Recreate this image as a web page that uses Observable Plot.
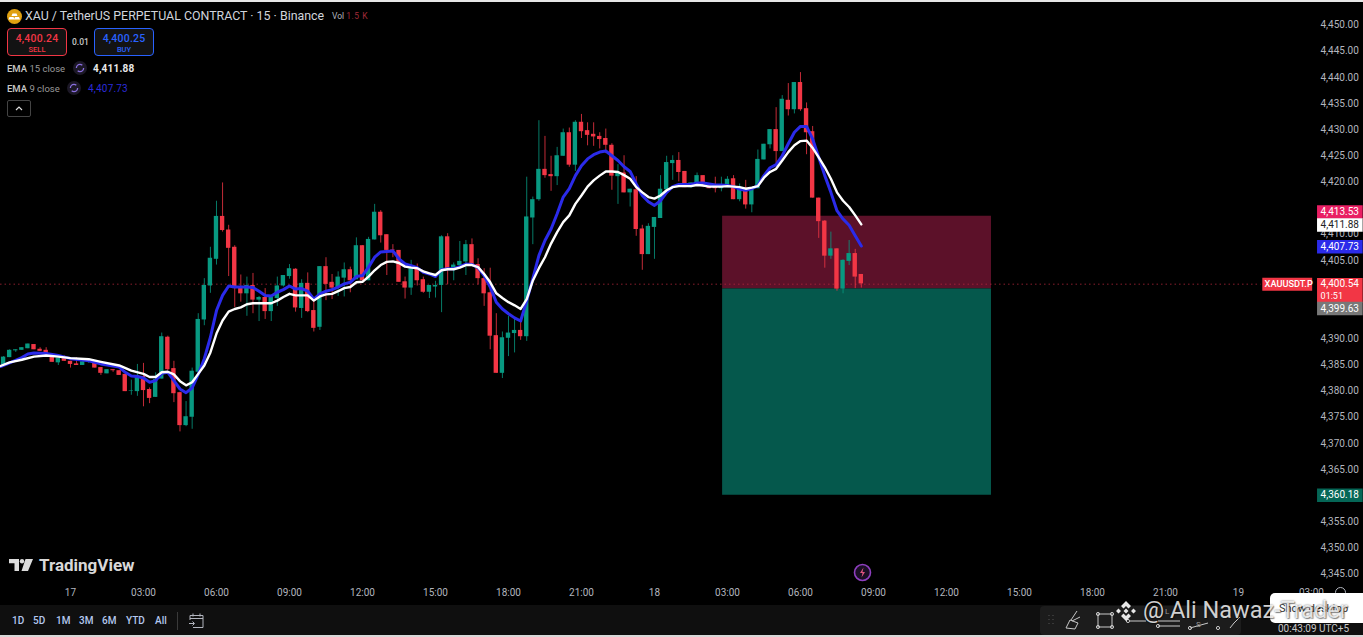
<!DOCTYPE html>
<html>
<head>
<meta charset="utf-8">
<script src="https://cdn.jsdelivr.net/npm/d3@7"></script>
<script src="https://cdn.jsdelivr.net/npm/@observablehq/plot@0.6"></script>
<style>
html,body{margin:0;padding:0;background:#000;overflow:hidden}
#wrap{position:relative;width:1363px;height:637px;font-family:Roboto,sans-serif;overflow:hidden}
#wrap svg{display:block}
.o{position:absolute;white-space:nowrap;line-height:1}
.box{position:absolute;top:28px;width:58px;height:26px;border-radius:4px;background:#131313;text-align:center;box-sizing:content-box}
.box b{display:block;font-size:10.5px;font-weight:500;margin-top:4px;line-height:12px;letter-spacing:.2px}
.box span{display:block;font-size:7.5px;font-weight:500;line-height:9px}
.rg{color:#b4c8ee;font-size:10px;top:616px;font-weight:500}
</style>
</head>
<body>
<div id="wrap"></div>
<script>
// Bars are 15-minute candles; index 0 is 00:00 on the 17th.
const firstBar = -11;
const opens = [4384.9,4386.4,4387.7,4387.8,4388.1,4388.9,4388.0,4387.8,4387.0,4385.4,4386.2,
4385.7,4385.2,4384.9,4385.5,4385.8,4384.5,4383.3,4384.1,4383.9,4383.2,
4380.0,4379.9,4382.8,4380.3,4378.8,4382.3,4390.3,4384.3,4379.7,4373.4,
4375.0,4383.6,4393.6,4400.1,4405.2,4413.4,4410.8,4407.5,4399.7,4398.6,
4400.2,4397.4,4397.9,4395.2,4397.7,4400.1,4401.9,4403.3,4395.8,4400.6,
4395.4,4392.2,4403.8,4400.8,4399.7,4401.6,4403.2,4401.3,4407.8,4401.1,
4408.9,4414.2,4409.9,4407.0,4406.9,4400.9,4399.7,4403.4,4401.3,4398.9,
4399.9,4400.2,4409.5,4403.2,4404.0,4404.7,4408.0,4404.2,4401.5,4398.8,
4390.6,4383.4,4390.1,4391.0,4391.6,4390.4,4413.1,4416.6,4422.4,4421.4,
4421.0,4424.9,4429.4,4423.2,4431.4,4429.8,4429.1,4428.7,4428.3,4427.0,
4421.0,4421.7,4417.9,4418.5,4411.0,4406.1,4411.3,4413.0,4418.5,4423.5,
4424.1,4422.0,4418.9,4419.6,4421.2,4419.2,4419.0,4418.7,4418.9,4420.6,
4416.6,4418.8,4415.6,4418.7,4424.2,4427.1,4430.0,4425.8,4435.6,4433.8,
4439.0,4434.0,4429.6,4416.9,4412.5,4405.8,4407.2,4399.5,4404.8,4406.3,4402.3];
const highs = [4386.6,4387.9,4387.9,4388.3,4389.0,4388.9,4388.3,4388.3,4387.1,4386.3,4386.7,
4385.7,4386.4,4385.6,4386.1,4385.8,4384.5,4384.1,4384.1,4383.9,4383.2,
4382.1,4385.1,4385.3,4380.6,4383.5,4391.1,4390.5,4385.7,4379.8,4378.0,
4384.4,4394.8,4401.5,4407.5,4416.3,4419.8,4411.7,4407.8,4402.2,4401.8,
4402.5,4398.1,4399.6,4397.9,4401.8,4402.1,4404.2,4403.4,4401.3,4402.6,
4397.3,4403.8,4405.5,4402.3,4402.8,4404.5,4403.7,4409.3,4407.8,4409.4,
4415.7,4414.5,4409.9,4408.0,4406.9,4401.8,4405.0,4404.3,4401.8,4400.2,
4401.0,4409.7,4410.1,4404.5,4408.6,4408.8,4409.1,4405.3,4403.4,4403.5,
4394.8,4391.3,4394.3,4393.8,4393.7,4420.9,4417.1,4431.7,4428.7,4424.9,
4426.6,4430.1,4430.3,4431.7,4432.9,4431.3,4431.3,4429.4,4430.1,4427.3,
4423.3,4425.0,4418.6,4421.0,4411.7,4412.0,4413.2,4421.2,4424.9,4425.0,
4425.6,4422.0,4419.8,4421.7,4421.2,4419.2,4420.9,4420.9,4421.0,4421.2,
4419.6,4420.3,4418.7,4426.1,4427.2,4430.0,4434.2,4436.5,4438.8,4439.0,
4440.9,4435.1,4430.6,4416.9,4412.6,4410.4,4407.2,4405.1,4408.8,4407.1,4402.3];
const lows = [4384.8,4386.4,4387.4,4387.8,4388.1,4387.9,4387.6,4387.0,4385.5,4384.9,4385.7,
4384.4,4384.9,4384.9,4385.3,4384.4,4383.0,4383.3,4383.6,4383.0,4379.9,
4379.2,4379.0,4377.0,4377.6,4378.8,4382.3,4383.9,4377.8,4372.2,4373.2,
4372.7,4383.6,4392.5,4398.7,4404.1,4410.4,4401.9,4396.0,4397.0,4394.3,
4394.8,4393.3,4393.7,4393.3,4396.2,4399.9,4401.4,4395.1,4393.9,4395.0,
4391.3,4391.6,4397.3,4397.5,4398.1,4398.0,4398.8,4401.3,4400.7,4401.1,
4408.9,4408.3,4402.1,4405.5,4400.8,4397.6,4398.3,4400.1,4398.7,4397.7,
4397.8,4395.0,4400.3,4401.1,4404.0,4402.1,4404.0,4400.3,4396.2,4387.9,
4383.4,4382.4,4386.6,4387.3,4389.7,4389.5,4408.0,4416.3,4420.7,4418.2,
4419.3,4424.9,4422.8,4422.0,4428.3,4426.9,4426.8,4426.3,4425.4,4418.4,
4415.7,4417.9,4415.2,4409.6,4403.1,4406.1,4405.2,4413.0,4418.5,4420.3,
4420.0,4418.9,4418.8,4419.6,4418.9,4418.7,4417.9,4418.1,4418.9,4416.6,
4416.2,4414.8,4414.1,4418.7,4424.2,4426.3,4423.5,4425.8,4432.6,4433.0,
4433.5,4425.2,4416.9,4409.2,4403.5,4405.2,4399.1,4398.6,4404.0,4399.6,4399.7];
const closes = [4386.5,4387.8,4387.9,4388.3,4389.0,4387.9,4387.6,4387.0,4385.5,4386.3,4385.7,
4385.1,4384.9,4385.6,4385.8,4384.4,4383.4,4384.1,4383.9,4383.0,4379.9,
4380.1,4382.9,4380.1,4378.6,4382.2,4390.4,4384.1,4379.5,4373.4,4375.1,
4383.8,4393.7,4400.2,4405.4,4413.4,4410.7,4407.3,4399.6,4398.6,4400.2,
4397.4,4397.9,4395.2,4397.9,4400.1,4402.1,4403.4,4395.9,4400.6,4395.2,
4392.0,4403.8,4400.4,4399.7,4401.8,4403.2,4401.1,4407.8,4401.1,4409.0,
4414.2,4409.7,4406.9,4406.9,4400.8,4399.7,4403.4,4401.1,4398.9,4400.2,
4400.2,4409.5,4403.3,4404.1,4404.8,4408.0,4404.1,4401.5,4398.6,4390.5,
4383.4,4390.2,4391.1,4391.6,4390.4,4413.3,4416.6,4422.4,4421.2,4421.0,
4425.0,4429.4,4423.2,4431.4,4429.6,4428.9,4428.6,4428.1,4427.0,4421.1,
4421.6,4417.9,4418.6,4410.9,4406.1,4411.5,4413.2,4418.6,4423.7,4424.1,
4421.8,4418.9,4419.8,4421.2,4419.1,4418.7,4418.7,4419.1,4420.5,4416.6,
4418.7,4415.6,4418.7,4424.3,4427.2,4430.0,4425.8,4435.8,4433.8,4439.0,
4433.8,4429.4,4416.9,4412.4,4405.8,4407.2,4399.5,4405.0,4406.3,4401.8,4400.5];

const ema15Bars = [-11.5,-10,-8,-6,-4,-2,0,3,5,8,10,12,...d3.range(13,131)];
const ema15 = [4384.8,4385.5,4386.0,4386.6,4386.8,4386.6,4386.3,4386.1,4385.6,4384.9,4383.9,4383.3,
4382.7,4382.7,4383.6,4383.7,4383.2,4381.9,4381.1,4381.7,4383.3,4384.9,4387.4,4391.0,4393.5,4395.2,4395.7,4396.0,4396.6,4396.8,4396.8,4396.8,
4396.8,4397.3,4398.0,4398.6,4398.3,4398.3,4398.3,4397.3,4398.1,4398.5,4398.6,4399.1,4399.7,4399.9,4400.8,4400.9,4401.9,4403.1,4404.1,4404.7,4404.8,4404.5,4403.8,4403.6,4403.5,4402.9,4402.5,4402.2,4403.1,4403.3,4403.3,4403.6,4404.1,4404.1,4403.7,4402.4,4400.8,4398.7,4397.8,4397.0,4396.4,4395.7,4397.6,
4401.1,4403.5,4405.6,4408.2,4410.4,4412.3,4413.6,4415.8,4417.4,4419.1,4420.3,4421.2,4422.0,4422.0,4421.9,4421.3,4420.6,4419.0,4418.0,4417.1,4416.8,4417.4,4418.4,4419.0,4419.2,4419.2,4419.2,4419.4,4419.3,4419.1,4419.1,4419.1,4419.2,4419.1,4419.0,4418.7,4418.9,4419.2,
4420.8,4421.9,4422.5,4424.1,4425.7,4427.0,4427.8,4427.9,4426.5,4424.7,4422.8,4420.6,4418.0,4416.4,4415.2,4413.6,4411.88];
const ema9Bars = [-11.5,-10,-8,-7,-6,-4,-2,0,3,5,8,...d3.range(9,131)];
const ema9 = [4384.7,4385.4,4386.4,4387.1,4387.3,4387.2,4386.8,4386.2,4385.8,4385.2,4384.6,
4383.6,4382.9,4382.8,4382.5,4381.7,4382.0,4383.4,4383.6,4382.0,4380.4,4379.7,4380.6,4383.2,4386.2,4390.3,4395.4,4398.3,4400.1,4399.9,4399.9,4399.9,4399.8,4399.1,4398.3,
4398.2,4398.9,4399.4,4400.1,4399.5,4399.6,4399.1,4397.6,4398.6,4399.1,4399.4,4399.9,4400.5,4400.8,4401.9,4402.1,4403.7,4405.6,4406.6,4406.7,4406.8,4405.3,4404.3,4404.0,4403.6,4402.7,4402.4,4401.9,4403.2,4403.4,4403.4,4403.8,4404.3,4404.2,4403.6,4402.1,4399.9,4397.0,4395.7,4394.8,4394.0,4393.4,4397.3,
4401.5,4405.9,4408.8,4411.0,4413.9,4417.1,4418.7,4421.2,4423.1,4424.4,4425.2,4425.7,4425.9,4425.0,4424.1,4422.9,4422.0,4419.6,4417.4,4416.2,4415.5,4416.4,4418.0,4419.1,4419.5,4419.5,4419.5,4419.8,4419.8,4419.6,4419.4,4419.4,4419.3,4419.1,4418.6,4418.4,4418.7,4419.3,
4421.2,4422.7,4423.3,4425.0,4427.3,4429.5,4430.6,4430.6,4428.2,4424.7,4421.2,4418.0,4414.5,4412.9,4411.7,4409.7,4407.73];

const timeTicks = [0,12,24,36,48,60,72,84,96,108,120,132,144,156,168,180,192,204];
const timeLabels = ["17","03:00","06:00","09:00","12:00","15:00","18:00","21:00","18","03:00","06:00","09:00","12:00","15:00","18:00","21:00","19","03:00"];
const priceTicks = [4345,4350,4355,4365,4370,4375,4380,4385,4390,4405,4410,4420,4425,4430,4435,4440,4445,4450];

const entryPrice = 4399.63, stopPrice = 4413.53, targetPrice = 4360.18, lastPrice = 4400.54;
const ema15Last = 4411.88, ema9Last = 4407.73;
const boxStart = 107.2, boxEnd = 151.4;

const UP = "#089981", DOWN = "#f23645";
const bars = opens.map((o,k)=>({i:firstBar+k,o,h:highs[k],l:lows[k],c:closes[k],col:closes[k]>=o?UP:DOWN}));
const zip = (xs,ys)=>xs.map((i,k)=>({i,v:ys[k]}));
const fmt = d3.format(",.2f");
const tagL = 205, tagR = 212.5;

function tag(price,bg,fg,dy){
  return [
    Plot.ruleY([price],{x1:()=>tagL,x2:()=>tagR,stroke:bg,strokeWidth:13.5,dy}),
    Plot.text([price],{x:()=>tagL+.5,y:d=>d,text:d=>fmt(d),textAnchor:"start",fill:fg,fontSize:10,fontWeight:400,dy,fontFamily:"Roboto"})
  ];
}

const chart = Plot.plot({
  width:1363,height:637,
  marginLeft:0,marginRight:72,marginTop:0,marginBottom:53,
  style:{background:"#000",fontFamily:"Roboto",overflow:"visible"},
  x:{domain:[-11.507,200.72]},
  y:{domain:[4343.02,4454.685]},
  marks:[
    Plot.rect([0],{x1:()=>boxStart,x2:()=>boxEnd,y1:()=>entryPrice,y2:()=>stopPrice,fill:"#5c1129",dy:.5}),
    Plot.rect([0],{x1:()=>boxStart,x2:()=>boxEnd,y1:()=>targetPrice,y2:()=>entryPrice,fill:"#05584c",dy:.5}),
    Plot.ruleY([lastPrice],{x1:()=>-11.5,x2:()=>195.7,stroke:"#b8283c",strokeOpacity:.75,strokeDasharray:"1.5,3",strokeWidth:1,dy:.5}),
    Plot.ruleX(bars,{x:"i",y1:"l",y2:"h",stroke:"col",strokeWidth:1,strokeOpacity:.8}),
    Plot.rect(bars,{x1:d=>d.i-.36,x2:d=>d.i+.36,y1:"o",y2:"c",fill:"col"}),
    Plot.line(zip(ema9Bars,ema9),{x:"i",y:"v",stroke:"#2b2bea",strokeWidth:3}),
    Plot.line(zip(ema15Bars,ema15),{x:"i",y:"v",stroke:"#fff",strokeWidth:2.4}),
    Plot.axisX({ticks:timeTicks,tickFormat:d=>timeLabels[timeTicks.indexOf(d)],tickSize:0,tickPadding:4.5,fontSize:10,color:"#b2b5be",anchor:"bottom",label:null}),
    Plot.axisY({ticks:priceTicks,tickFormat:fmt,tickSize:0,tickPadding:29,textAnchor:"start",fontSize:10,color:"#b2b5be",anchor:"right",label:null}),
    ...tag(stopPrice,"#e91e63","#fff",-3.8),
    ...tag(ema15Last,"#ffffff","#222",.7),
    ...tag(ema9Last,"#2b2bea","#fff",.8),
    ...tag(targetPrice,"#056656","#fff",.5),
    Plot.ruleY([lastPrice],{x1:()=>tagL,x2:()=>tagR,stroke:DOWN,strokeWidth:24.5,dy:6.5}),
    Plot.text([lastPrice],{x:()=>tagL+.5,y:d=>d,text:d=>fmt(d),textAnchor:"start",fill:"#fff",fontSize:10,fontWeight:400,dy:.5}),
    Plot.text([lastPrice],{x:()=>tagL+.5,y:d=>d,text:()=>"01:51",textAnchor:"start",fill:"#fff",fontSize:9,dy:12}),
    ...tag(entryPrice,"#787878","#fff",20),
    Plot.ruleY([lastPrice],{x1:()=>196,x2:()=>204.2,stroke:DOWN,strokeWidth:13,dy:.5}),
    Plot.text([lastPrice],{x:()=>196.3,y:d=>d,text:()=>"XAUUSDT.P",textAnchor:"start",fill:"#fff",fontSize:9.2,fontWeight:500,dy:.5})
  ]
});
const wrap = document.getElementById("wrap");
wrap.appendChild(chart);

const chrome = `
<div class="o" style="left:0;top:0;width:1363px;height:2px;background:#e6e6e6"></div>
<svg class="o" style="left:7px;top:9px" width="15" height="15" viewBox="0 0 15 15"><circle cx="7.5" cy="7.500" r="7.500" fill="#e0a010"/><path d="M5.500 3.500h4l1 2.500h-6zM2.500 7h4l1 2.500h-6zM8 7h4l1 2.500H7z" fill="#fff" transform="translate(0 1)"/></svg>
<div class="o" style="left:25px;top:9.500px;font-size:12.400px;color:#d1d4dc">XAU / TetherUS PERPETUAL CONTRACT · 15 · Binance</div>
<div class="o" style="left:332px;top:12px;font-size:8.500px;color:#b2b5be">Vol <span style="color:#a02a38;letter-spacing:.5px">1.5 K</span></div>
<div class="box" style="left:7px;border:1px solid #f23645;color:#f23645"><b>4,400.24</b><span>SELL</span></div>
<div class="o" style="left:72px;top:38px;font-size:8.500px;font-weight:500;color:#c8c8c8">0.01</div>
<div class="box" style="left:94px;border:1px solid #2962ff;color:#2962ff"><b>4,400.25</b><span>BUY</span></div>
<div class="o" style="left:7px;top:64px;font-size:9.500px;color:#9a9a9a"><span style="color:#c8c8c8;font-weight:500">EMA</span> 15 close</div>
<svg class="o" style="left:73px;top:61px" width="14" height="14" viewBox="0 0 14 14"><circle cx="7" cy="7" r="7" fill="#1c1826"/><circle cx="7" cy="7" r="3.600" fill="none" stroke="#8a6fe0" stroke-width="1.300" stroke-dasharray="8 3"/></svg>
<div class="o" style="left:93px;top:64px;font-size:10px;font-weight:700;color:#e8e8e8;letter-spacing:.2px">4,411.88</div>
<div class="o" style="left:7px;top:84px;font-size:9.500px;color:#9a9a9a"><span style="color:#c8c8c8;font-weight:500">EMA</span> 9 close</div>
<svg class="o" style="left:67px;top:81px" width="14" height="14" viewBox="0 0 14 14"><circle cx="7" cy="7" r="7" fill="#1c1826"/><circle cx="7" cy="7" r="3.600" fill="none" stroke="#8a6fe0" stroke-width="1.300" stroke-dasharray="8 3"/></svg>
<div class="o" style="left:88px;top:84px;font-size:10px;color:#2b2bd8;letter-spacing:.2px">4,407.73</div>
<div class="o" style="left:7px;top:100px;width:22px;height:15px;border:1px solid #444;border-radius:2px"><svg width="22" height="15"><path d="M8 9l3-3 3 3" fill="none" stroke="#ddd" stroke-width="1.200"/></svg></div>
<svg class="o" style="left:9px;top:559px" width="26" height="13" viewBox="0 0 26 13"><path d="M0 0H10V12H5.500V4.300H0ZM16.500 0H24L19 12H12.500Z" fill="#dcdcdc"/><circle cx="13" cy="2.200" r="2.200" fill="#dcdcdc"/></svg>
<div class="o" style="left:39px;top:557px;font-size:17px;font-weight:700;color:#d8d8d8">TradingView</div>
<svg class="o" style="left:853px;top:563px" width="19" height="19" viewBox="0 0 19 19"><circle cx="9.500" cy="9.500" r="8" fill="#1b0f25" stroke="#8e3fbf" stroke-width="1.600"/><path d="M10.500 4.500L7 10h2.500l-1 4.500L12 9H9.500z" fill="#e0557f"/></svg>
<svg class="o" style="left:1334px;top:586px" width="13" height="13" viewBox="0 0 13 13"><circle cx="6.500" cy="6.500" r="5" fill="none" stroke="#b2b5be"/></svg>
<div class="o" style="left:0;top:605px;width:1363px;height:30px;background:#0f0f0f"></div>
<div class="o" style="left:0;top:635px;width:1363px;height:2px;background:#d8d8d8"></div>
<div class="o rg" style="left:12px">1D</div><div class="o rg" style="left:33px">5D</div><div class="o rg" style="left:56px">1M</div><div class="o rg" style="left:79px">3M</div><div class="o rg" style="left:102px">6M</div><div class="o rg" style="left:126px">YTD</div><div class="o rg" style="left:155px">All</div>
<div class="o" style="left:177px;top:612px;width:1px;height:18px;background:#3a3a3a"></div>
<svg class="o" style="left:188px;top:612px" width="17" height="17" viewBox="0 0 17 17"><path d="M2 8V3.500h13V15.500H5M5 1.500v3M12 1.500v3M2 6.500h13M1 11.500h5M4.500 9.500l2 2-2 2" fill="none" stroke="#b2b5be" stroke-width="1"/></svg>
<div class="o" style="left:1040px;top:606px;width:201px;height:29px;background:#1c1c1c;border-radius:4px"></div>
<svg class="o" style="left:1040px;top:606px" width="201" height="29" viewBox="0 0 201 29" fill="none" stroke="#c8c8c8" stroke-width="1"><path d="M9 9v1M9 13v1M9 17v1M13 9v1M13 13v1M13 17v1" stroke="#555"/><path d="M26 22l4-8 8 3-3 6zM31 14l6-9M32 15l8-4"/><rect x="58" y="8" width="14" height="13"/><circle cx="58" cy="8" r="1.600"/><circle cx="72" cy="8" r="1.600"/><circle cx="58" cy="21" r="1.600"/><circle cx="72" cy="21" r="1.600"/><path d="M90 15h16M118 20h22M118 15h22M150 22l18-5M190 22l4-5 6-6"/><circle cx="88" cy="15" r="1.600"/><circle cx="118" cy="20" r="1.600"/><circle cx="150" cy="22" r="1.600"/><circle cx="178" cy="22" r="1.600"/></svg>
<div class="o" style="left:1165px;top:608px;font-size:8px;color:#999">L</div>
<div class="o" style="left:1196px;top:621px;font-size:8px;color:#999">S</div>
<div class="o" style="left:1278px;top:624px;font-size:10px;color:#c8c8c8">00:43:09 UTC+5</div>
<div class="o" style="left:1270px;top:593px;width:93px;height:30px;background:#fff;border-radius:5px 0 0 5px"></div>
<div class="o" style="left:1279px;top:603px;font-size:11px;color:#333">Show desktop</div>
<svg class="o" style="left:1113px;top:598px" width="26" height="26" viewBox="0 0 26 26" opacity=".9"><path d="M13 1l5 5-2.500 2.500L13 6l-2.500 2.500L8 6zM3 11l2.500-2.500L8 11l-2.500 2.500zM18 11l2.500-2.500L23 11l-2.500 2.500zM13 8.500l2.500 2.500-2.500 2.500-2.500-2.500zM8 16l2.500-2.500L13 16l2.500-2.500L18 16l-5 5z" fill="#fff" transform="translate(0 2)"/></svg>
<div class="o" style="left:1143px;top:599px;font-size:23.500px;color:rgba(255,255,255,.82);text-shadow:0 0 2px rgba(0,0,0,.55),1px 1px 1px rgba(0,0,0,.4)">@ Ali Nawaz-Trader</div>
`;
wrap.insertAdjacentHTML("beforeend",chrome);
</script>
</body>
</html>
